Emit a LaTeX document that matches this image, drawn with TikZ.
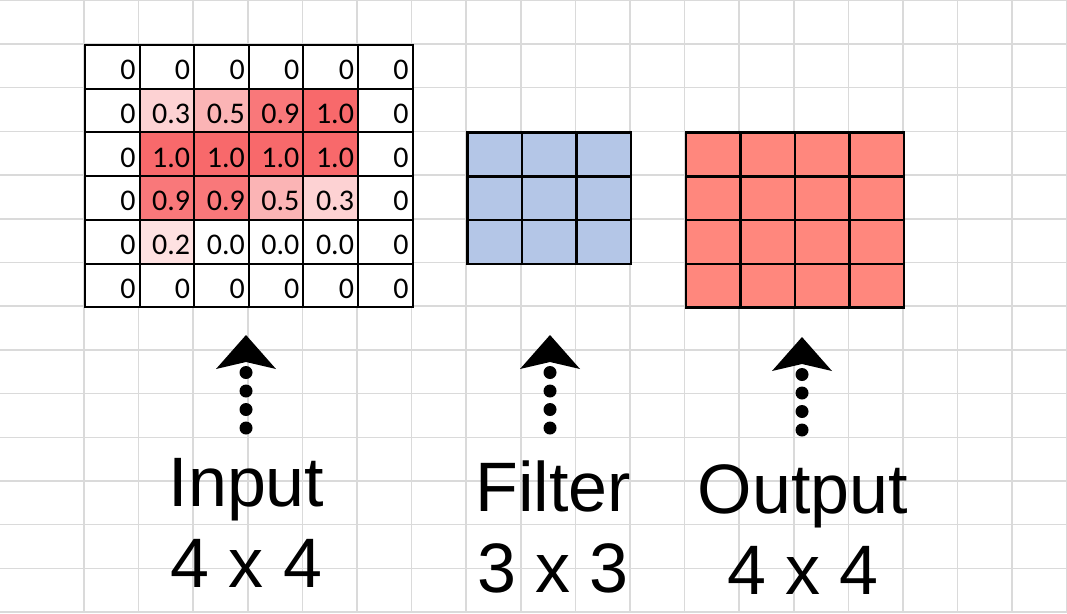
\documentclass[tikz,border=0pt]{standalone}
\usepackage{fontspec}
\setmainfont{Liberation Sans}
\newfontfamily\cellfont{Carlito}
\usetikzlibrary{arrows.meta}
\definecolor{sheetgray}{HTML}{DADADA}
\definecolor{heatred}{HTML}{F8696B}
\definecolor{filterblue}{HTML}{B4C6E7}
\definecolor{outred}{HTML}{FF877D}

\begin{document}
\begin{tikzpicture}[
  x=1pt, y=-1pt,
  sheet/.style={sheetgray, line width=1.5pt},
  incell/.style={draw=black, line width=2pt, anchor=north west, minimum width=54.6pt, minimum height=43.7pt,
    inner xsep=4pt, inner ysep=0pt, text width=46.6pt, align=right, text height=34.7pt, text depth=9pt,
    font=\cellfont\fontsize{30}{30}\selectfont},
  box/.style={draw=black, line width=2.4pt, anchor=north west, minimum width=54.6pt, minimum height=43.7pt, inner sep=0pt},
  caption/.style={align=center, font=\fontsize{70}{81}\selectfont},
  pointer/.style={line width=13pt, line cap=round, dash pattern=on 0pt off 18.5pt,
    -{Stealth[length=34pt, width=60pt, inset=7pt, line width=0pt]}}
]
\useasboundingbox (0,0) rectangle (1067,613);

% spreadsheet background
\foreach \j in {0,...,14} \draw[sheet] (0,0.3+43.7*\j) -- (1067,0.3+43.7*\j);
\foreach \i in {0,...,18} \draw[sheet] (84+54.6*\i,0) -- (84+54.6*\i,613);

% padded input, shaded by value
\foreach \row [count=\r from 0] in {
  {0/0,0/0,0/0,0/0,0/0,0/0},
  {0/0,0.3/30,0.5/50,0.9/90,1.0/100,0/0},
  {0/0,1.0/100,1.0/100,1.0/100,1.0/100,0/0},
  {0/0,0.9/90,0.9/90,0.5/50,0.3/30,0/0},
  {0/0,0.2/20,0.0/0,0.0/0,0.0/0,0/0},
  {0/0,0/0,0/0,0/0,0/0,0/0}}
  \foreach \v/\s [count=\c from 0] in \row
    \node[incell, fill=heatred!\s] (in\r\c) at (84+54.6*\c, 44+43.7*\r) {\v};

% filter and output
\foreach \r in {0,1,2} \foreach \c in {0,1,2}
  \node[box, fill=filterblue] (flt\r\c) at (466.2+54.6*\c, 131.4+43.7*\r) {};
\foreach \r in {0,...,3} \foreach \c in {0,...,3}
  \node[box, fill=outred] (out\r\c) at (684.6+54.6*\c, 131.4+43.7*\r) {};

% captions
\node[caption] (inlab) at (246.5,522.5) {Input\\4 x 4};
\node[caption] (fltlab) at (553,526.5) {Filter\\3 x 3};
\node[caption] (outlab) at (803,529.5) {Output\\4 x 4};

% dotted pointers
\foreach \p/\x/\d in {in/246/0, flt/550/0, out/802/2} {
  \coordinate (\p foot) at (\x,428+\d);
  \coordinate (\p tip) at (\x,335+\d);
  \draw[pointer] (\p foot) -- (\p tip);
}

\end{tikzpicture}
\end{document}
